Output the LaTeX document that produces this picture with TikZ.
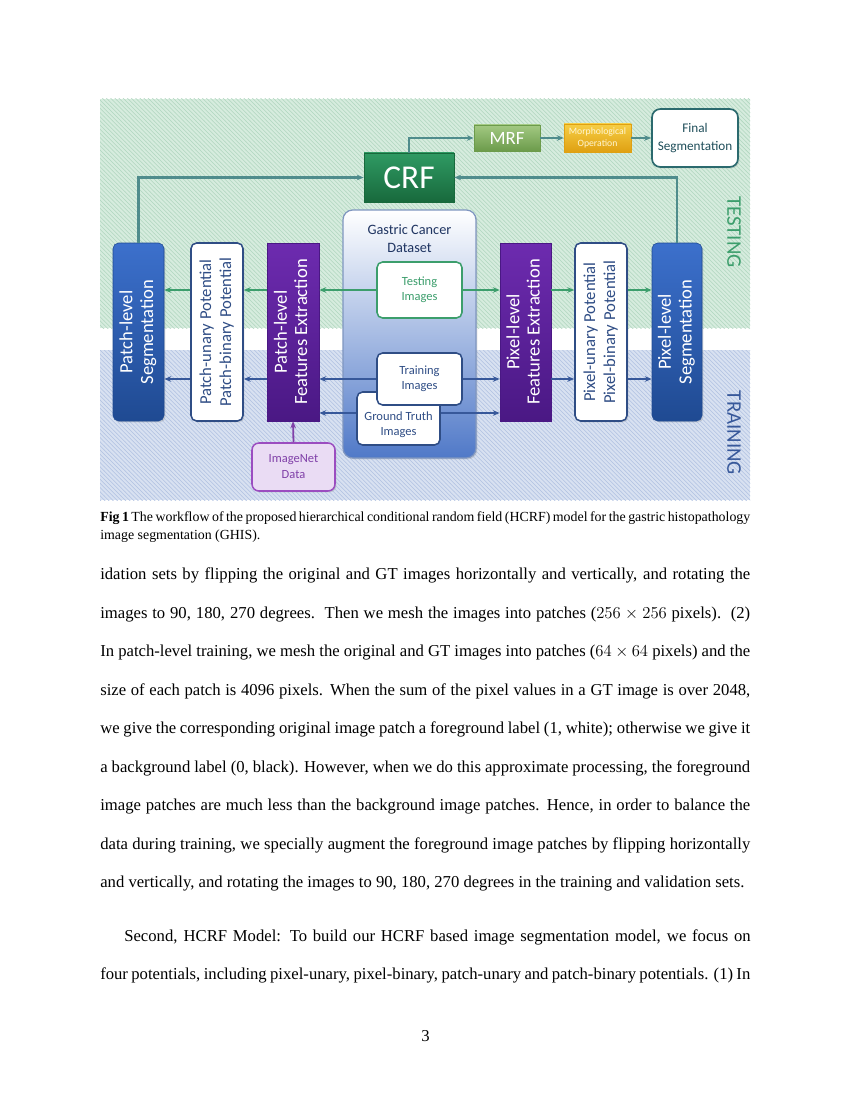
\documentclass[tikz,border=0pt]{standalone}
\usepackage[no-math]{fontspec}
\setmainfont{Liberation Serif}
\newfontfamily\calfont{Carlito}
\usetikzlibrary{arrows.meta,patterns,shadows}
\definecolor{gbase}{HTML}{D6ECDE}
\definecolor{ghatch}{HTML}{B0D6BF}
\definecolor{bbase}{HTML}{D8E1F1}
\definecolor{bhatch}{HTML}{B0C1E1}
\definecolor{segtop}{HTML}{3C70CC}
\definecolor{segbot}{HTML}{1F4A92}
\definecolor{purtop}{HTML}{6D2BAF}
\definecolor{purbot}{HTML}{4A1884}
\definecolor{crftop}{HTML}{2F9A63}
\definecolor{crfbot}{HTML}{18693C}
\definecolor{mrftop}{HTML}{A2C982}
\definecolor{mrfbot}{HTML}{6C9B4B}
\definecolor{mortop}{HTML}{F6CE45}
\definecolor{morbot}{HTML}{DFA012}
\definecolor{finalc}{HTML}{2B6A6E}
\definecolor{finaltxt}{HTML}{1F4E5A}
\definecolor{dkblue}{HTML}{2F4D85}
\definecolor{dsborder}{HTML}{7F96C0}
\definecolor{dstxt}{HTML}{1F3461}
\definecolor{dsbot}{HTML}{5079C8}
\definecolor{imfill}{HTML}{EADCF4}
\definecolor{imborder}{HTML}{9B4DC0}
\definecolor{imtxt}{HTML}{8040A8}
\definecolor{connc}{HTML}{4F8C8C}
\definecolor{gline}{HTML}{3C9E6C}
\definecolor{bline}{HTML}{37589A}
\tikzset{
  wh/.style 2 args={minimum width=#1*0.72pt,minimum height=#2*0.72pt},
  box/.style={inner sep=0pt,align=center,font=\calfont},
  shad/.style={drop shadow={opacity=0.25,shadow xshift=1pt,shadow yshift=-1pt}},
  segbox/.style={box,shad,rounded corners=4pt,top color=segtop,bottom color=segbot,draw=segbot,text=white,
    font=\calfont\fontsize{13.4}{15}\selectfont},
  potbox/.style={box,shad,rounded corners=4pt,fill=white,draw=dkblue,line width=1.1pt,text=dkblue,
    font=\calfont\fontsize{12}{14.4}\selectfont},
  featbox/.style={box,shad,top color=purtop,bottom color=purbot,draw=purbot,text=white,
    font=\calfont\fontsize{13.4}{14.6}\selectfont},
  imgbox/.style={box,rounded corners=4pt,fill=white,line width=1.1pt,
    font=\calfont\fontsize{9}{11}\selectfont},
  arr/.style={-{Stealth[length=5pt,width=4pt]}},
  conn/.style={draw=connc,line width=1.5pt,arr},
  gconn/.style={draw=gline,line width=1.4pt,arr},
  bconn/.style={draw=bline,line width=1.4pt,arr},
  body/.style={anchor=base west,inner sep=0pt,font=\fontsize{12}{14}\selectfont},
}
\newcommand\jline[1]{\makebox[468pt][s]{#1}}
\newcommand\vtext[1]{\rotatebox{90}{\begin{tabular}{@{}c@{}}#1\end{tabular}}}
\begin{document}
\begin{tikzpicture}[x=0.72pt,y=-0.72pt]
\useasboundingbox (0,0) rectangle (850,1100);
\fill[white] (0,0) rectangle (850,1100);
% backgrounds
\fill[gbase] (100,99) rectangle (750,328);
\fill[pattern=north west lines,pattern color=ghatch] (100,99) rectangle (750,328);
\fill[bbase] (100,350) rectangle (750,500);
\fill[pattern=north west lines,pattern color=bhatch] (100,350) rectangle (750,500);
\node[rotate=-90,font=\calfont\fontsize{15}{18}\selectfont,text=gline] (testing) at (734,232) {TESTING};
\node[rotate=-90,font=\calfont\fontsize{15}{18}\selectfont,text=bline] (training) at (734,433) {TRAINING};
% top row
\node[box,shad,wh={90}{49},top color=crftop,bottom color=crfbot,draw=crfbot,text=white,
  font=\calfont\fontsize{24}{26}\selectfont] (crf) at (409,177.5) {CRF};
\node[box,shad,wh={66}{26},top color=mrftop,bottom color=mrfbot,draw=mrfbot,text=white,
  font=\calfont\fontsize{13.5}{15}\selectfont] (mrf) at (507,138) {MRF};
\node[box,shad,wh={67}{28},top color=mortop,bottom color=morbot,draw=morbot,text={rgb,255:red,255;green,246;blue,210},
  font=\calfont\fontsize{7}{8.6}\selectfont] (morph) at (597.5,138) {Morphological\\Operation};
\node[box,shad,wh={86}{58},rounded corners=6pt,fill=white,draw=finalc,line width=1.2pt,text=finaltxt,
  font=\calfont\fontsize{9.5}{13}\selectfont] (final) at (695,138) {Final\\Segmentation};
% dataset
\node[box,shad,wh={133}{248},rounded corners=7pt,top color=white,bottom color=dsbot,draw=dsborder,line width=0.9pt,
  label={[anchor=north,text=dstxt,align=center,font=\calfont\fontsize{10.3}{13}\selectfont,yshift=-7.5pt]north:Gastric Cancer\\Dataset}]
  (dataset) at (409.5,334) {};
\node[imgbox,wh={85}{56},draw=gline,text=gline] (test) at (419.5,290) {Testing\\Images};
\node[imgbox,wh={83}{53},draw=dkblue,text=dkblue] (gt) at (398.5,418.5)
  {\raisebox{-7pt}[0pt][0pt]{\begin{tabular}{@{}c@{}}Ground Truth\\Images\end{tabular}}};
\node[imgbox,wh={85}{52},draw=dkblue,text=dkblue] (train) at (419.5,379) {Training\\Images};
% columns
\node[segbox,wh={51}{178}] (ptseg) at (138.5,332) {\vtext{Patch-level\\Segmentation}};
\node[potbox,wh={52}{178}] (ptpot) at (217,332) {\vtext{Patch-unary Potential\\Patch-binary Potential}};
\node[featbox,wh={52}{178}] (ptfeat) at (293,332) {\vtext{Patch-level\\Features Extraction}};
\node[featbox,wh={51}{178}] (pxfeat) at (525.5,332) {\vtext{Pixel-level\\Features Extraction}};
\node[potbox,wh={52}{178}] (pxpot) at (601,332) {\vtext{Pixel-unary Potential\\Pixel-binary Potential}};
\node[segbox,wh={50}{178}] (pxseg) at (677,332) {\vtext{Pixel-level\\Segmentation}};
\node[box,shad,wh={83}{48},rounded corners=5pt,fill=imfill,draw=imborder,line width=1.1pt,text=imtxt,
  font=\calfont\fontsize{9}{11.5}\selectfont] (imnet) at (293.5,467) {ImageNet\\Data};
% helper rows
\coordinate (gy) at (0,290);
\coordinate (by) at (0,379);
\coordinate (gty) at (0,413);
% connectors
\draw[conn] (crf.north) |- (mrf.west);
\draw[conn] (mrf.east) -- (morph.west);
\draw[conn] (morph.east) -- (final.west);
\draw[conn] (ptseg.north) |- (crf.west);
\draw[conn] (pxseg.north) |- (crf.east);
\draw[gconn] (test.west) -- (ptfeat.east|-gy);
\draw[gconn] (ptfeat.west|-gy) -- (ptpot.east|-gy);
\draw[gconn] (ptpot.west|-gy) -- (ptseg.east|-gy);
\draw[gconn] (test.east) -- (pxfeat.west|-gy);
\draw[gconn] (pxfeat.east|-gy) -- (pxpot.west|-gy);
\draw[gconn] (pxpot.east|-gy) -- (pxseg.west|-gy);
\draw[bconn] (train.west|-by) -- (ptfeat.east|-by);
\draw[bconn] (ptfeat.west|-by) -- (ptpot.east|-by);
\draw[bconn] (ptpot.west|-by) -- (ptseg.east|-by);
\draw[bconn] (train.east|-by) -- (pxfeat.west|-by);
\draw[bconn] (pxfeat.east|-by) -- (pxpot.west|-by);
\draw[bconn] (pxpot.east|-by) -- (pxseg.west|-by);
\draw[bconn] (gt.west|-gty) -- (ptfeat.east|-gty);
\draw[bconn] (gt.east|-gty) -- (pxfeat.west|-gty);
\draw[draw=imtxt,line width=1.3pt,arr] (imnet.north) -- (ptfeat.south);
% caption
\node[body,font=\fontsize{10}{12}\selectfont] (cap1) at (100,521) {\jline{\textbf{Fig 1} The workflow of the proposed hierarchical conditional random field (HCRF) model for the gastric histopathology}};
\node[body,font=\fontsize{10}{12}\selectfont] (cap2) at (100,539) {image segmentation (GHIS).};
% body text
\node[body] (l1) at (100,579) {\jline{idation sets by flipping the original and GT images horizontally and vertically, and rotating the}};
\node[body] (l2) at (100,618) {\jline{images to 90, 180, 270 degrees.\ \ Then we mesh the images into patches ($256\times256$ pixels).\ \ (2)}};
\node[body] (l3) at (100,656) {\jline{In patch-level training, we mesh the original and GT images into patches ($64\times64$ pixels) and the}};
\node[body] (l4) at (100,695) {\jline{size of each patch is 4096 pixels. When the sum of the pixel values in a GT image is over 2048,}};
\node[body] (l5) at (100,733) {\jline{we give the corresponding original image patch a foreground label (1, white); otherwise we give it}};
\node[body] (l6) at (100,772) {\jline{a background label (0, black). However, when we do this approximate processing, the foreground}};
\node[body] (l7) at (100,810) {\jline{image patches are much less than the background image patches. Hence, in order to balance the}};
\node[body] (l8) at (100,849) {\jline{data during training, we specially augment the foreground image patches by flipping horizontally}};
\node[body] (l9) at (100,887) {and vertically, and rotating the images to 90, 180, 270 degrees in the training and validation sets.};
\node[body] (l10) at (124,941) {\makebox[451pt][s]{Second, HCRF Model: To build our HCRF based image segmentation model, we focus on}};
\node[body] (l11) at (100,979) {\jline{four potentials, including pixel-unary, pixel-binary, patch-unary and patch-binary potentials. (1) In}};
\node[body] (pg) at (421,1041) {3};
\end{tikzpicture}
\end{document}
